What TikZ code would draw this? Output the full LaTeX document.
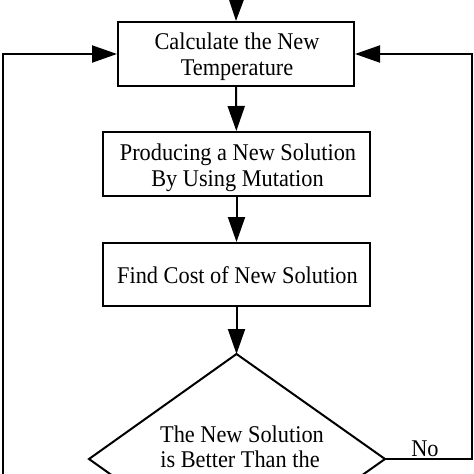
\documentclass[tikz,border=0pt]{standalone}
\usepackage{fontspec}
\setmainfont{Liberation Serif}[FakeStretch=0.93]
\usetikzlibrary{arrows.meta}
\begin{document}
\begin{tikzpicture}[x=1pt,y=-1pt,
  every node/.style={font=\fontsize{24}{26}\selectfont},
  procbox/.style={draw,line width=2pt,inner sep=0pt},
  label/.style={anchor=base,inner sep=0pt},
  flow/.style={line width=2pt,-{Triangle[length=25pt,width=17pt]}},
  plain/.style={line width=2pt}]
\clip (0,0) rectangle (474,474);
\node[procbox,minimum width=236pt,minimum height=64pt] (b1) at (236,54) {};
\node[procbox,minimum width=267pt,minimum height=64pt] (b2) at (236.5,164) {};
\node[procbox,minimum width=267pt,minimum height=63pt] (b3) at (236.5,274.5) {};
\node[label] (t1a) at (237,49.3) {Calculate the New};
\node[label] (t1b) at (237,75) {Temperature};
\node[label] (t2a) at (238,160) {Producing a New Solution};
\node[label] (t2b) at (237.5,186.5) {By Using Mutation};
\node[label] (t3) at (237.5,283) {Find Cost of New Solution};
\coordinate (dt) at (236.5,354);
\coordinate (dl) at (89,459);
\coordinate (dr) at (385,459);
\coordinate (db) at (236.5,564);
\draw[plain,line join=miter] (dt) -- (dr) -- (db) -- (dl) -- cycle;
\node[label] (d1) at (242,442) {The New Solution};
\node[label] (d2) at (240,467) {is Better Than the};
\coordinate (top) at (236.5,-5);
\coordinate (lbot) at (3,490);
\coordinate (lc) at (3,54);
\coordinate (rc1) at (472,459);
\coordinate (rc2) at (472,54);
\draw[flow] (top) -- (b1.north);
\draw[flow] (b1) -- (b2);
\draw[flow] (b2) -- (b3);
\draw[flow] (b3) -- (dt);
\draw[flow] (lbot) -- (lc) -- (b1.west);
\draw[flow] (dr) -- (rc1) -- (rc2) -- (b1.east);
\node[label] (no) at (425,456) {No};
\end{tikzpicture}
\end{document}
